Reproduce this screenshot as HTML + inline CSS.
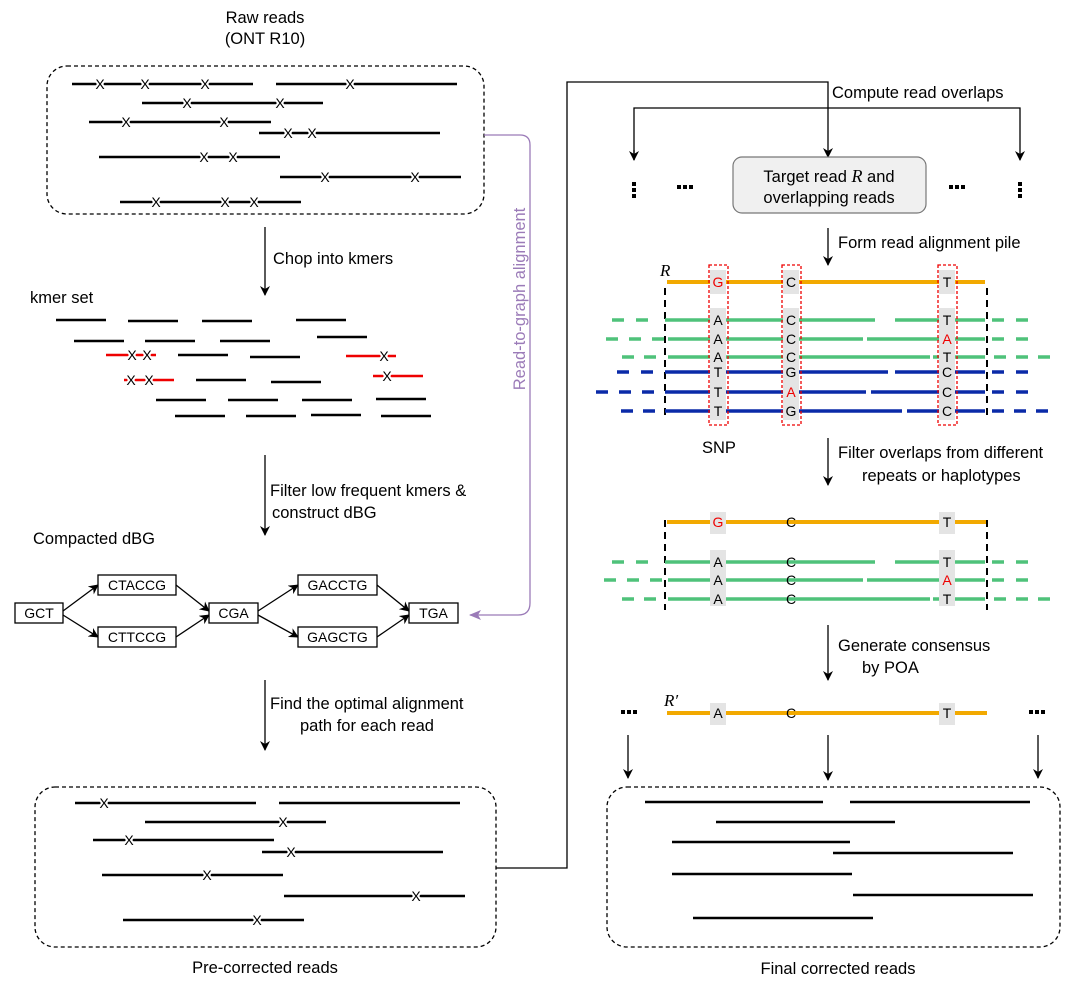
<!DOCTYPE html>
<html><head><meta charset="utf-8"><style>
html,body{margin:0;padding:0;background:#fff;}
svg{display:block;font-family:"Liberation Sans",sans-serif;}
.x{font-size:14px;text-anchor:middle;stroke:#fff;stroke-width:4px;paint-order:stroke;fill:#000;}
.t{font-size:16.5px;fill:#000;}
.r line{stroke:#000;stroke-width:2.5;}
.k line{stroke:#000;stroke-width:2.5;}
.n text{font-size:14px;text-anchor:middle;}
.n rect{fill:#fff;stroke:#000;stroke-width:1.3;}
.b{font-size:14px;text-anchor:middle;}
</style></head><body>
<svg width="1080" height="987" viewBox="0 0 1080 987">
<defs>
<marker id="ar" markerWidth="10" markerHeight="10" refX="9" refY="5" orient="auto" markerUnits="userSpaceOnUse"><path d="M0,0 L10,5 L0,10 L3,5z" fill="#000"/></marker>
<marker id="ap" markerWidth="12" markerHeight="10" refX="11" refY="5" orient="auto" markerUnits="userSpaceOnUse"><path d="M0,0 L12,5 L0,10 L3,5z" fill="#9b7bb8"/></marker>
</defs>

<text class="t" x="265" y="23" text-anchor="middle">Raw reads</text>
<text class="t" x="265" y="44" text-anchor="middle">(ONT R10)</text>
<rect x="47" y="66" width="437" height="148" rx="20" fill="none" stroke="#000" stroke-width="1.3" stroke-dasharray="4,3"/>
<g class="r">
<line x1="72" y1="84" x2="253" y2="84"/><line x1="276" y1="84" x2="457" y2="84"/>
<line x1="142" y1="103" x2="323" y2="103"/>
<line x1="89" y1="122" x2="271" y2="122"/>
<line x1="259" y1="133" x2="440" y2="133"/>
<line x1="99" y1="157" x2="280" y2="157"/>
<line x1="280" y1="177" x2="461" y2="177"/>
<line x1="120" y1="202" x2="301" y2="202"/>
</g>
<g class="x">
<text x="100" y="89">X</text><text x="145" y="89">X</text><text x="205" y="89">X</text><text x="350" y="89">X</text>
<text x="187" y="108">X</text><text x="280" y="108">X</text>
<text x="126" y="127">X</text><text x="224" y="127">X</text>
<text x="288" y="138">X</text><text x="312" y="138">X</text>
<text x="204" y="162">X</text><text x="233" y="162">X</text>
<text x="325" y="182">X</text><text x="415" y="182">X</text>
<text x="156" y="207">X</text><text x="225" y="207">X</text><text x="254" y="207">X</text>
</g>
<line x1="265" y1="227" x2="265" y2="295" stroke="#000" stroke-width="1.3" marker-end="url(#ar)"/>
<text class="t" x="273" y="264">Chop into kmers</text>
<text class="t" x="30" y="303">kmer set</text>
<g class="k">
<line x1="56" y1="320" x2="106" y2="320"/><line x1="128" y1="321" x2="178" y2="321"/><line x1="202" y1="321" x2="252" y2="321"/><line x1="296" y1="320" x2="346" y2="320"/>
<line x1="74" y1="341" x2="124" y2="341"/><line x1="145" y1="341" x2="195" y2="341"/><line x1="220" y1="341" x2="270" y2="341"/><line x1="317" y1="337" x2="367" y2="337"/>
<line x1="178" y1="355" x2="228" y2="355"/><line x1="250" y1="357" x2="300" y2="357"/>
<line x1="196" y1="380" x2="246" y2="380"/><line x1="271" y1="382" x2="321" y2="382"/>
<line x1="156" y1="400" x2="206" y2="400"/><line x1="228" y1="400" x2="278" y2="400"/><line x1="302" y1="400" x2="352" y2="400"/><line x1="376" y1="399" x2="426" y2="399"/>
<line x1="175" y1="416" x2="225" y2="416"/><line x1="246" y1="416" x2="296" y2="416"/><line x1="311" y1="415" x2="361" y2="415"/><line x1="381" y1="416" x2="431" y2="416"/>
</g>
<g stroke="#e00" stroke-width="2.5">
<line x1="106" y1="355" x2="156" y2="355"/>
<line x1="124" y1="380" x2="174" y2="380"/>
<line x1="346" y1="356" x2="396" y2="356"/>
<line x1="373" y1="376" x2="423" y2="376"/>
</g>
<g class="x">
<text x="132" y="360">X</text><text x="147" y="360">X</text>
<text x="131" y="385">X</text><text x="149" y="385">X</text>
<text x="384" y="361">X</text>
<text x="387" y="381">X</text>
</g>
<line x1="265" y1="455" x2="265" y2="535" stroke="#000" stroke-width="1.3" marker-end="url(#ar)"/>
<text class="t" x="270" y="496">Filter low frequent kmers &amp;</text>
<text class="t" x="272" y="518">construct dBG</text>
<text class="t" x="33" y="544">Compacted dBG</text>

<g stroke="#000" stroke-width="1.3" fill="none">
<line x1="63" y1="611" x2="98" y2="585" marker-end="url(#ar)"/>
<line x1="63" y1="615" x2="98" y2="637" marker-end="url(#ar)"/>
<line x1="176" y1="585" x2="209" y2="611" marker-end="url(#ar)"/>
<line x1="176" y1="637" x2="209" y2="615" marker-end="url(#ar)"/>
<line x1="258" y1="611" x2="298" y2="585" marker-end="url(#ar)"/>
<line x1="258" y1="615" x2="298" y2="637" marker-end="url(#ar)"/>
<line x1="377" y1="585" x2="409" y2="611" marker-end="url(#ar)"/>
<line x1="377" y1="637" x2="409" y2="615" marker-end="url(#ar)"/>
</g>
<g class="n">
<rect x="15" y="603" width="48" height="20"/><text x="39" y="618">GCT</text>
<rect x="98" y="575" width="78" height="20"/><text x="137" y="590">CTACCG</text>
<rect x="98" y="627" width="78" height="20"/><text x="137" y="642">CTTCCG</text>
<rect x="209" y="603" width="49" height="20"/><text x="233.5" y="618">CGA</text>
<rect x="298" y="575" width="79" height="20"/><text x="337.5" y="590">GACCTG</text>
<rect x="298" y="627" width="79" height="20"/><text x="337.5" y="642">GAGCTG</text>
<rect x="409" y="603" width="49" height="20"/><text x="433.5" y="618">TGA</text>
</g>

<path d="M484,135 L520,135 Q530,135 530,145 L530,603 Q530,615 518,615 L470,615" fill="none" stroke="#9b7bb8" stroke-width="1.3" marker-end="url(#ap)"/>
<rect x="511" y="160" width="18" height="278" fill="#fff"/>
<text x="525" y="299" font-size="16.5" fill="#9b7bb8" text-anchor="middle" transform="rotate(-90 525 299)" style="font-family:'Liberation Sans',sans-serif">Read-to-graph alignment</text>

<line x1="265" y1="680" x2="265" y2="750" stroke="#000" stroke-width="1.3" marker-end="url(#ar)"/>
<text class="t" x="270" y="709">Find the optimal alignment</text>
<text class="t" x="300" y="731">path for each read</text>

<rect x="35" y="787" width="461" height="160" rx="20" fill="none" stroke="#000" stroke-width="1.3" stroke-dasharray="4,3"/>
<g class="r">
<line x1="75" y1="803" x2="256" y2="803"/><line x1="279" y1="803" x2="460" y2="803"/>
<line x1="145" y1="822" x2="326" y2="822"/>
<line x1="93" y1="840" x2="274" y2="840"/>
<line x1="262" y1="852" x2="443" y2="852"/>
<line x1="102" y1="875" x2="283" y2="875"/>
<line x1="284" y1="896" x2="465" y2="896"/>
<line x1="123" y1="920" x2="304" y2="920"/>
</g>
<g class="x">
<text x="104" y="808">X</text><text x="283" y="827">X</text><text x="129" y="845">X</text><text x="291" y="857">X</text>
<text x="207" y="880">X</text><text x="416" y="901">X</text><text x="257" y="925">X</text>
</g>
<text class="t" x="265" y="973" text-anchor="middle">Pre-corrected reads</text>

<path d="M496,868 L567,868 L567,82 L828,82 L828,157" fill="none" stroke="#000" stroke-width="1.3" marker-end="url(#ar)"/>
<text class="t" x="832" y="98">Compute read overlaps</text>
<path d="M634,160 L634,108 L1020,108 L1020,160" fill="none" stroke="#000" stroke-width="1.3" marker-end="url(#ar)"/>
<line x1="634" y1="150" x2="634" y2="160" stroke="#000" stroke-width="1.3" marker-end="url(#ar)"/>
<rect x="733" y="157" width="193" height="56" rx="9" fill="#f0f0f0" stroke="#777" stroke-width="1.2"/>
<text class="t" x="829" y="182" text-anchor="middle">Target read <tspan font-family="Liberation Serif" font-style="italic" font-size="18">R</tspan> and</text>
<text class="t" x="829" y="203" text-anchor="middle">overlapping reads</text>
<g fill="#000">
<rect x="632" y="182" width="4" height="4"/><rect x="632" y="188" width="4" height="4"/><rect x="632" y="194" width="4" height="4"/>
<rect x="1018" y="182" width="4" height="4"/><rect x="1018" y="188" width="4" height="4"/><rect x="1018" y="194" width="4" height="4"/>
<rect x="677" y="185" width="4" height="4"/><rect x="683" y="185" width="4" height="4"/><rect x="689" y="185" width="4" height="4"/>
<rect x="949" y="185" width="4" height="4"/><rect x="955" y="185" width="4" height="4"/><rect x="961" y="185" width="4" height="4"/>
</g>
<line x1="828" y1="228" x2="828" y2="265" stroke="#000" stroke-width="1.3" marker-end="url(#ar)"/>
<text class="t" x="838" y="248">Form read alignment pile</text>

<text x="660" y="276" font-family="Liberation Serif" font-style="italic" font-size="17">R</text>
<line x1="667" y1="282" x2="985" y2="282" stroke="#f2a900" stroke-width="4"/>
<g stroke="#000" stroke-width="2" stroke-dasharray="7,5"><line x1="665" y1="288" x2="665" y2="416"/><line x1="987" y1="288" x2="987" y2="416"/></g>
<g stroke="#4fc27a" stroke-width="3.5">
<line x1="612" y1="320" x2="660" y2="320" stroke-dasharray="12,12"/><line x1="665" y1="320" x2="875" y2="320"/><line x1="895" y1="320" x2="985" y2="320"/><line x1="992" y1="320" x2="1030" y2="320" stroke-dasharray="12,12"/>
<line x1="606" y1="339" x2="665" y2="339" stroke-dasharray="12,11"/><line x1="668" y1="339" x2="863" y2="339"/><line x1="867" y1="339" x2="985" y2="339"/><line x1="992" y1="339" x2="1030" y2="339" stroke-dasharray="12,12"/>
<line x1="622" y1="357" x2="660" y2="357" stroke-dasharray="12,10"/><line x1="668" y1="357" x2="930" y2="357"/><line x1="933" y1="357" x2="985" y2="357"/><line x1="994" y1="357" x2="1054" y2="357" stroke-dasharray="12,10"/>
</g>
<g stroke="#0a2aa8" stroke-width="3.5">
<line x1="617" y1="372" x2="655" y2="372" stroke-dasharray="12,12"/><line x1="665" y1="372" x2="888" y2="372"/><line x1="895" y1="372" x2="985" y2="372"/><line x1="992" y1="372" x2="1030" y2="372" stroke-dasharray="12,12"/>
<line x1="596" y1="392" x2="660" y2="392" stroke-dasharray="12,11"/><line x1="665" y1="392" x2="866" y2="392"/><line x1="871" y1="392" x2="985" y2="392"/><line x1="992" y1="392" x2="1030" y2="392" stroke-dasharray="12,12"/>
<line x1="621" y1="411" x2="660" y2="411" stroke-dasharray="12,10"/><line x1="665" y1="411" x2="902" y2="411"/><line x1="907" y1="411" x2="985" y2="411"/><line x1="992" y1="411" x2="1054" y2="411" stroke-dasharray="12,10"/>
</g>
<g fill="#e4e4e4">
<rect x="710" y="270" width="16" height="24"/><rect x="783" y="270" width="16" height="24"/><rect x="939" y="270" width="16" height="24"/>
<rect x="710" y="308" width="16" height="112"/><rect x="783" y="308" width="16" height="112"/><rect x="939" y="308" width="16" height="112"/>
</g>
<g class="b">
<text x="718" y="287" fill="#e00">G</text><text x="791" y="287">C</text><text x="947" y="287">T</text>
<text x="718" y="325">A</text><text x="791" y="325">C</text><text x="947" y="325">T</text>
<text x="718" y="344">A</text><text x="791" y="344">C</text><text x="947" y="344" fill="#e00">A</text>
<text x="718" y="362">A</text><text x="791" y="362">C</text><text x="947" y="362">T</text>
<text x="718" y="377">T</text><text x="791" y="377">G</text><text x="947" y="377">C</text>
<text x="718" y="397">T</text><text x="791" y="397" fill="#e00">A</text><text x="947" y="397">C</text>
<text x="718" y="416">T</text><text x="791" y="416">G</text><text x="947" y="416">C</text>
</g>
<g fill="none" stroke="#e00" stroke-width="1.3" stroke-dasharray="3,2">
<rect x="709" y="265" width="19" height="160"/><rect x="782" y="265" width="19" height="160"/><rect x="938" y="265" width="19" height="160"/>
</g>
<text class="t" x="702" y="453">SNP</text>

<line x1="828" y1="438" x2="828" y2="485" stroke="#000" stroke-width="1.3" marker-end="url(#ar)"/>
<text class="t" x="838" y="458">Filter overlaps from different</text>
<text class="t" x="862" y="481">repeats or haplotypes</text>

<line x1="667" y1="522" x2="987" y2="522" stroke="#f2a900" stroke-width="4"/>
<g stroke="#000" stroke-width="2" stroke-dasharray="7,5"><line x1="665" y1="520" x2="665" y2="610"/><line x1="987" y1="520" x2="987" y2="610"/></g>
<g stroke="#4fc27a" stroke-width="3.5">
<line x1="612" y1="562" x2="660" y2="562" stroke-dasharray="12,12"/><line x1="665" y1="562" x2="875" y2="562"/><line x1="895" y1="562" x2="985" y2="562"/><line x1="992" y1="562" x2="1030" y2="562" stroke-dasharray="12,12"/>
<line x1="604" y1="580" x2="665" y2="580" stroke-dasharray="12,11"/><line x1="668" y1="580" x2="863" y2="580"/><line x1="867" y1="580" x2="985" y2="580"/><line x1="992" y1="580" x2="1030" y2="580" stroke-dasharray="12,12"/>
<line x1="622" y1="599" x2="660" y2="599" stroke-dasharray="12,10"/><line x1="668" y1="599" x2="930" y2="599"/><line x1="933" y1="599" x2="985" y2="599"/><line x1="994" y1="599" x2="1054" y2="599" stroke-dasharray="12,10"/>
</g>
<g fill="#e4e4e4">
<rect x="710" y="512" width="16" height="22"/><rect x="939" y="512" width="16" height="22"/>
<rect x="710" y="550" width="16" height="56"/><rect x="939" y="550" width="16" height="56"/>
</g>
<g class="b">
<text x="718" y="527" fill="#e00">G</text><text x="791" y="527">C</text><text x="947" y="527">T</text>
<text x="718" y="567">A</text><text x="791" y="567">C</text><text x="947" y="567">T</text>
<text x="718" y="585">A</text><text x="791" y="585">C</text><text x="947" y="585" fill="#e00">A</text>
<text x="718" y="604">A</text><text x="791" y="604">C</text><text x="947" y="604">T</text>
</g>

<line x1="828" y1="625" x2="828" y2="680" stroke="#000" stroke-width="1.3" marker-end="url(#ar)"/>
<text class="t" x="838" y="651" fill="#5a1010">Generate consensus</text>
<text class="t" x="862" y="673" fill="#5a1010">by POA</text>

<text x="664" y="706" font-family="Liberation Serif" font-style="italic" font-size="17">R′</text>
<line x1="667" y1="713" x2="987" y2="713" stroke="#f2a900" stroke-width="4"/>
<g fill="#e4e4e4"><rect x="710" y="703" width="16" height="22"/><rect x="939" y="703" width="16" height="22"/></g>
<g class="b"><text x="718" y="718">A</text><text x="791" y="718">C</text><text x="947" y="718">T</text></g>
<g fill="#000">
<rect x="621" y="710" width="4" height="4"/><rect x="627" y="710" width="4" height="4"/><rect x="633" y="710" width="4" height="4"/>
<rect x="1029" y="710" width="4" height="4"/><rect x="1035" y="710" width="4" height="4"/><rect x="1041" y="710" width="4" height="4"/>
</g>
<g stroke="#000" stroke-width="1.3">
<line x1="628" y1="735" x2="628" y2="778" marker-end="url(#ar)"/>
<line x1="828" y1="735" x2="828" y2="780" marker-end="url(#ar)"/>
<line x1="1038" y1="735" x2="1038" y2="778" marker-end="url(#ar)"/>
</g>

<rect x="607" y="787" width="453" height="160" rx="20" fill="none" stroke="#000" stroke-width="1.3" stroke-dasharray="4,3"/>
<g class="r">
<line x1="645" y1="802" x2="823" y2="802"/><line x1="850" y1="802" x2="1030" y2="802"/>
<line x1="716" y1="822" x2="895" y2="822"/>
<line x1="672" y1="842" x2="850" y2="842"/>
<line x1="833" y1="853" x2="1013" y2="853"/>
<line x1="672" y1="874" x2="852" y2="874"/>
<line x1="853" y1="895" x2="1033" y2="895"/>
<line x1="693" y1="918" x2="873" y2="918"/>
</g>
<text class="t" x="838" y="974" text-anchor="middle">Final corrected reads</text>
</svg>
</body></html>
